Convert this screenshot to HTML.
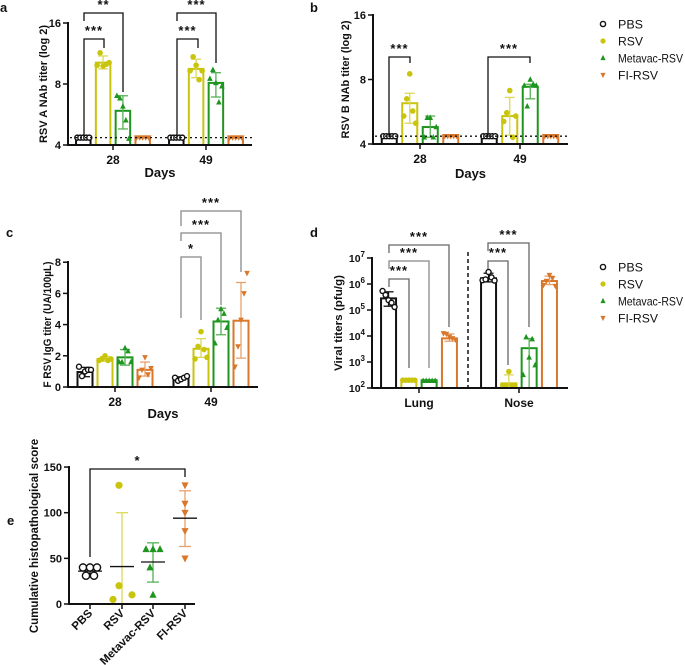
<!DOCTYPE html>
<html><head><meta charset="utf-8">
<style>
html,body{margin:0;padding:0;background:#fff;}
svg{display:block;font-family:"Liberation Sans",sans-serif;}
text{font-family:"Liberation Sans",sans-serif;}
</style></head>
<body>
<svg id="chart" width="685" height="665" viewBox="0 0 685 665" xmlns="http://www.w3.org/2000/svg"></svg>
<script>
// ---------- DATA ----------
const seriesNames = ['PBS','RSV','Metavac-RSV','FI-RSV'];
// Panel a (RSV A NAb titer, log2 axis)
const aCategories = ['28','49'];
const aTicks = [4,8,16];
const aMeans = [[4.35,10.2,5.9,4.35],[4.35,9.5,8.1,4.35]];
const aErrLo = [[4.35,9.5,4.8,4.35],[4.35,8.6,6.9,4.35]];
const aErrHi = [[4.35,11.0,7.0,4.35],[4.35,10.6,9.1,4.35]];
const aPoints = [
 [[4.35,4.35,4.35,4.35,4.35],[9.9,11.4,9.8,10.0,10.2],[7.0,6.8,6.2,5.3,4.3],[4.35,4.35,4.35,4.35,4.35]],
 [[4.35,4.35,4.35,4.35,4.35],[9.3,10.9,9.9,8.4,9.3],[8.5,9.4,8.1,6.5,7.8],[4.35,4.35,4.35,4.35,4.35]]
];
// Panel b (RSV B NAb titer)
const bCategories = ['28','49'];
const bTicks = [4,8,16];
const bMeans = [[4.35,6.2,4.8,4.35],[4.35,5.4,7.4,4.35]];
const bErrLo = [[4.35,5.0,4.3,4.35],[4.35,4.4,6.5,4.35]];
const bErrHi = [[4.35,6.9,5.4,4.35],[4.35,6.6,7.6,4.35]];
const bPoints = [
 [[4.35,4.35,4.35,4.35,4.35],[5.4,6.5,8.5,5.7,5.0],[4.3,5.3,5.3,4.3,4.8],[4.35,4.35,4.35,4.35,4.35]],
 [[4.35,4.35,4.35,4.35,4.35],[5.1,5.6,7.1,4.3,5.4],[7.5,6.0,8.0,7.6,7.5],[4.35,4.35,4.35,4.35,4.35]]
];
// Panel c (F RSV IgG)
const cCategories = ['28','49'];
const cTicks = [0,2,4,6,8];
const cMeans = [[0.96,1.8,1.9,1.1],[0.55,2.45,4.2,4.25]];
const cErrLo = [[0.66,1.65,1.4,0.7],[0.45,1.9,3.35,1.85]];
const cErrHi = [[1.26,1.95,2.4,1.6],[0.65,3.1,5.05,6.7]];
const cPoints = [
 [[1.3,0.7,1.0,1.1,1.1],[1.7,1.8,2.0,1.7,1.8],[1.6,1.6,2.5,2.3,1.6],[0.6,1.1,1.9,0.8,1.2]],
 [[0.6,0.4,0.5,0.6,0.7],[1.8,2.6,3.55,2.4,1.9],[2.8,4.3,5.0,4.7,3.8],[1.3,2.6,4.3,6.0,7.3]]
];
// Panel d (viral titers, log10 axis)
const dCategories = ['Lung','Nose'];
const dTicks = [1e2,1e3,1e4,1e5,1e6,1e7];
const dMeans = [[2.8e5,2.1e2,2.0e2,8.1e3],[1.66e6,1.5e2,3.4e3,1.3e6]];
const dErrLo = [[1.4e5,2.0e2,1.9e2,6.3e3],[1.2e6,1.0e2,1.0e2,9.5e5]];
const dErrHi = [[5.0e5,2.2e2,2.1e2,1.2e4],[2.6e6,3.2e2,8.0e3,2.0e6]];
const dPoints = [
 [[5.4e5,3.8e5,2.4e5,1.9e5,1.3e5],[2.0e2,2.0e2,2.0e2,2.0e2,2.0e2],[1.9e2,1.9e2,1.9e2,1.9e2,1.9e2],[1.26e4,1.2e4,9.3e3,8.1e3,7.1e3]],
 [[1.4e6,1.5e6,2.9e6,1.8e6,1.35e6],[1.3e2,1.3e2,4.3e2,1.3e2,1.3e2],[3.2e2,9.0e3,1.5e3,7.6e3,7.6e2],[9.1e5,1.3e6,2.2e6,1.66e6,8.3e5]]
];
// Panel e (histopathological score)
const eCategories = ['PBS','RSV','Metavac-RSV','FI-RSV'];
const eTicks = [0,50,100,150];
const eMeans = [36,41,46,94];
const eErrLo = [31,0,24,63];
const eErrHi = [41,100,67,124];
const ePoints = [[40,40,40,31,31],[130,20,5,10],[60,60,60,40,10],[130,110,100,80,50]];

// ---------- DRAWING ----------
const svg = document.getElementById('chart');
const NS = 'http://www.w3.org/2000/svg';
function mk(tag, attrs, parent){
  const e = document.createElementNS(NS, tag);
  for (const k in attrs) e.setAttribute(k, attrs[k]);
  (parent || svg).appendChild(e);
  return e;
}
const colors = ['#111111','#c9c40c','#1e951e','#d9772b'];
const errColors = ['#111111','#dcd85a','#55b055','#e8a06a'];
const markers = ['ocircle','circle','tri','tridown'];

function marker(parent, type, x, y, color, s){
  s = s || 3;
  let m;
  if (type === 'ocircle') m = mk('circle',{cx:x,cy:y,r:s,fill:'#fff',stroke:color,'stroke-width':1.4},parent);
  else if (type === 'circle') m = mk('circle',{cx:x,cy:y,r:s,fill:color},parent);
  else if (type === 'tri') m = mk('path',{d:`M${x},${y-s-0.5}L${x+s},${y+s*0.8}L${x-s},${y+s*0.8}Z`,fill:color},parent);
  else m = mk('path',{d:`M${x},${y+s+0.5}L${x+s},${y-s*0.8}L${x-s},${y-s*0.8}Z`,fill:color},parent);
  
  
  return m;
}
function txt(parent, x, y, s, o){
  o = o || {};
  const t = mk('text',{x:x,y:y,'font-size':o.size||11,'font-weight':o.weight||'bold','text-anchor':o.anchor||'middle',fill:o.fill||'#111'},parent);
  if (o.transform) t.setAttribute('transform', o.transform);
  if (o.len){ t.setAttribute('textLength', o.len); t.setAttribute('lengthAdjust','spacingAndGlyphs'); }
  t.textContent = s;
  return t;
}
function line(parent,x1,y1,x2,y2,stroke,w,dash){
  const l = mk('line',{x1:x1,y1:y1,x2:x2,y2:y2,stroke:stroke||'#111','stroke-width':w||1.5},parent);
  if (dash) l.setAttribute('stroke-dasharray',dash);
  return l;
}
function bracket(parent, xl, xr, y, yl, yr, label, color){
  const g = mk('g',{},parent);
  
  
  mk('path',{d:`M${xl},${yl}L${xl},${y}L${xr},${y}L${xr},${yr}`,fill:'none',stroke:color||'#111','stroke-width':1.3},g);
  const t = txt(g,(xl+xr)/2,y-4,label,{size:13});
  t.setAttribute('letter-spacing','1');
}

function barPanel(o){
  const g = mk('g',{});
  
  
  const y = o.y;
  o.categories.forEach((cat, ci) => {
    const cx = o.xCenters[ci];
    for (let si = 0; si < 4; si++){
      const bx = cx + (si - 1.5) * o.step;
      const yt = y(o.means[ci][si]);
      const b = mk('rect',{x:bx-o.bw/2,y:yt,width:o.bw,height:Math.max(0,o.y0-yt),fill:'#fff',stroke:colors[si],'stroke-width':2},g);
      
      
      const eg = mk('g',{},g);
      
      
      const ylo = y(o.errLo[ci][si]), yhi = y(o.errHi[ci][si]);
      line(eg,bx,ylo,bx,yhi,errColors[si],1.3);
      line(eg,bx-5,ylo,bx+5,ylo,errColors[si],1.3);
      line(eg,bx-5,yhi,bx+5,yhi,errColors[si],1.3);
      const pts = o.points[ci][si];
      const off = [-6,-3,0,3,6];
      pts.forEach((v,pi) => marker(g, markers[si], bx+off[pi%5], y(v), colors[si], si===0?2.5:2.8));
    }
  });
  const ax = mk('g',{},g);
  
  
  line(ax,o.x0,o.yTop-1,o.x0,o.y0+1,'#111',2);
  o.ticks.forEach((t,i) => {
    const ty = y(t);
    line(ax,o.x0-5,ty,o.x0,ty,'#111',1.5);
    const lab = txt(ax,o.x0-7,ty+4,o.tickLabels?'':String(t),{anchor:'end',size:o.tickLabels?10.5:11});
    if (o.tickLabels){
      lab.textContent = '10';
      const sup = mk('tspan',{dy:-5,'font-size':8},lab);
      sup.textContent = String(Math.round(Math.log10(t)));
    }
  });
  const xa = mk('g',{},g);
  
  
  line(xa,o.x0-1,o.y0,o.x1,o.y0,'#111',2);
  o.categories.forEach((c,ci) => {
    line(xa,o.xCenters[ci],o.y0,o.xCenters[ci],o.y0+5,'#111',1.5);
    txt(xa,o.xCenters[ci],o.y0+19,c,{size:12});
  });
  if (o.xTitle){
    const xt = txt(g,(o.x0+o.x1)/2,o.xTitleY,o.xTitle,{size:13});
    
    
  }
  const cy = (o.yTop+o.y0)/2;
  const yt = txt(g,o.yTitleX,cy,o.yTitle,{size:11,len:o.yTitleLen,transform:`rotate(-90 ${o.yTitleX} ${cy})`});
  
  
  return g;
}

function legend(x, y0, dy){
  const g = mk('g',{});
  
  
  const lens = [25,25,65,40];
  seriesNames.forEach((n,i) => {
    const eg = mk('g',{},g);
    
    
    marker(eg, markers[i], x, y0+i*dy, colors[i], 2.6);
    txt(eg, x+15, y0+i*dy+4.5, n, {anchor:'start',weight:'normal',size:12,len:lens[i]});
  });
}
function panelLabel(s,x,y){
  const t = txt(svg,x,y,s,{anchor:'start',size:13});
  
  
}

// ----- Panel a -----
const yA = v => 145 - (Math.log2(v) - 2) * 61;
const gA = barPanel({name:'panel-a',categories:aCategories,means:aMeans,errLo:aErrLo,errHi:aErrHi,points:aPoints,
  y:yA,y0:145,yTop:23,x0:68,x1:252,xCenters:[113,206],step:19.8,bw:14.5,ticks:aTicks,
  xTitle:'Days',xTitleY:177,yTitle:'RSV A NAb titer (log 2)',yTitleX:47,yTitleLen:118});
line(gA,70,yA(4.35),252,yA(4.35),'#111',1.3,'2,3');
bracket(gA,84,123,13,21,92,'**');
bracket(gA,84,104,39,137,48,'***');
bracket(gA,177,216,13,21,63,'***');
bracket(gA,177,198,39,137,48,'***');
panelLabel('a',0,12);

// ----- Panel b -----
const yB = v => 144 - (Math.log2(v) - 2) * 64.5;
const gB = barPanel({name:'panel-b',categories:bCategories,means:bMeans,errLo:bErrLo,errHi:bErrHi,points:bPoints,
  y:yB,y0:144,yTop:15,x0:373,x1:568,xCenters:[420,520],step:20.5,bw:15,ticks:bTicks,
  xTitle:'Days',xTitleY:178,yTitle:'RSV B NAb titer (log 2)',yTitleX:349,yTitleLen:118});
line(gB,375,yB(4.35),568,yB(4.35),'#111',1.3,'2,3');
bracket(gB,389,410,57,137,63,'***');
bracket(gB,488,530,57,137,63,'***');
legend(603,24,17);
panelLabel('b',310,12);

// ----- Panel c -----
const yC = v => 387 - v * 15.6;
const gC = barPanel({name:'panel-c',categories:cCategories,means:cMeans,errLo:cErrLo,errHi:cErrHi,points:cPoints,
  y:yC,y0:387,yTop:262,x0:68,x1:258,xCenters:[115,211],step:20,bw:15,ticks:cTicks,
  xTitle:'Days',xTitleY:418,yTitle:'F RSV IgG titer (UA/100µL)',yTitleX:51,yTitleLen:126});
bracket(gC,181,241,211,226,272,'***','#888');
bracket(gC,181,221,233,241,305,'***','#888');
bracket(gC,181,201,257,318,320,'*','#888');
panelLabel('c',6,237);

// ----- Panel d -----
const yD = v => 388 - (Math.log10(v) - 2) * 26;
const gD = barPanel({name:'panel-d',categories:dCategories,means:dMeans,errLo:dErrLo,errHi:dErrHi,points:dPoints,
  y:yD,y0:388,yTop:258,x0:372,x1:568,xCenters:[419,519],step:20.3,bw:15,ticks:dTicks,tickLabels:true,
  xTitle:null,yTitle:'Viral titers (pfu/g)',yTitleX:342,yTitleLen:96});
line(gD,468,252,468,388,'#111',1.5,'4,3');
bracket(gD,389,409,279,287,368,'***','#666');
bracket(gD,389,429,261,269,368,'***','#888');
bracket(gD,389,449,245,253,327,'***','#666');
bracket(gD,488,508,261,269,365,'***','#666');
bracket(gD,488,529,243,251,327,'***','#666');
legend(603,267,17);
panelLabel('d',310,237);

// ----- Panel e -----
const yE = v => 604 - v * 0.913;
const eX = [90,122,153,185];
const gE = mk('g',{});


const eOff = [[-7,0,7,-4,4],[-3,-3,-9,10],[-7,0,7,-3,0],[0,0,0,0,0]];
eCategories.forEach((c,i) => {
  const x = eX[i];
  const eg = mk('g',{},gE);
  
  
  line(eg,x,yE(eErrLo[i]),x,yE(eErrHi[i]),errColors[i],1.3);
  line(eg,x-6,yE(eErrLo[i]),x+6,yE(eErrLo[i]),errColors[i],1.3);
  line(eg,x-6,yE(eErrHi[i]),x+6,yE(eErrHi[i]),errColors[i],1.3);
  const ml = line(gE,x-12,yE(eMeans[i]),x+12,yE(eMeans[i]),'#111',1.3);
  
  
  ePoints[i].forEach((v,pi) => marker(gE, markers[i], x+eOff[i][pi], yE(v), colors[i], 3.6));
});
const eya = mk('g',{},gE);


line(eya,69,466,69,605,'#111',2);
eTicks.forEach(t => { line(eya,64,yE(t),69,yE(t),'#111',1.5); txt(eya,62,yE(t)+4,String(t),{anchor:'end',size:11}); });
const exa = mk('g',{},gE);


line(exa,68,604,195,604,'#111',2);
eCategories.forEach((c,i) => {
  line(exa,eX[i],604,eX[i],609,'#111',1.5);
  txt(exa,eX[i]+3,614,c,{anchor:'end',size:11.5,transform:`rotate(-45 ${eX[i]+3} 614)`});
});
const eyt = txt(gE,38,536,'Cumulative histopathological score',{size:11.5,transform:'rotate(-90 38 536)'});


bracket(gE,90,185,469,557,477,'*');
panelLabel('e',7,525);
</script>
</body></html>
